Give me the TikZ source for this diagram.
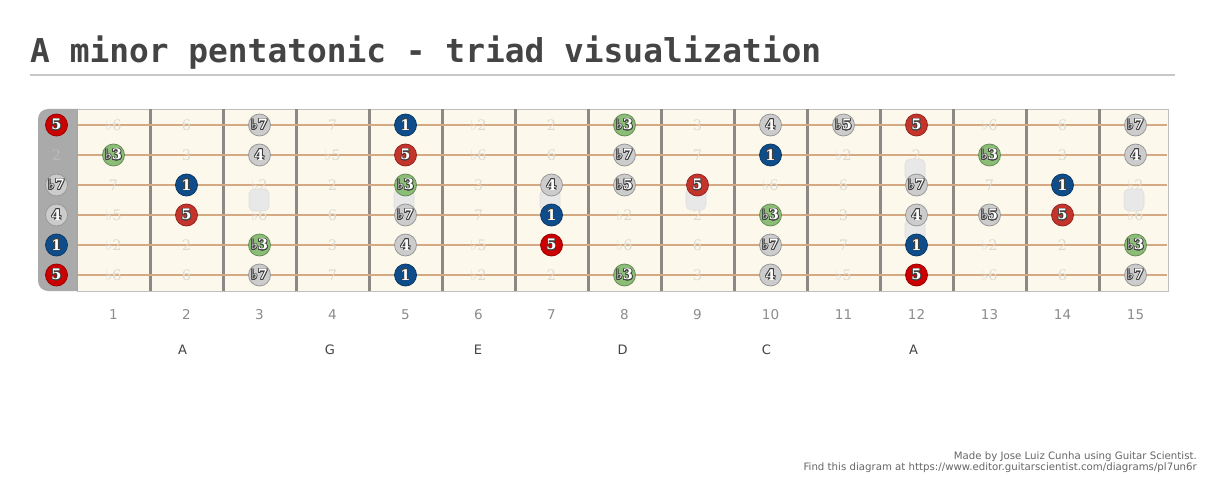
\documentclass[tikz,border=0pt]{standalone}
\usepackage{fontspec}
\usepackage{contour}
\contourlength{0.75pt}
\contournumber{16}
\newfontfamily\titlefont{DejaVu Sans Mono}
\newfontfamily\dsans{DejaVu Sans}
\newfontfamily\dserif{DejaVu Serif}
\newcommand{\fl}{{\dsans ♭}}
\definecolor{boardc}{HTML}{FDF8EC}
\definecolor{nutc}{HTML}{AAAAAA}
\definecolor{fretc}{HTML}{8C8884}
\definecolor{stringc}{HTML}{D6A985}
\definecolor{ghostc}{HTML}{DFDAD0}
\definecolor{redA}{HTML}{CC0000}
\definecolor{redB}{HTML}{C4342A}
\definecolor{blueA}{HTML}{0E4D8A}
\definecolor{greenA}{HTML}{8BBD76}
\definecolor{grayA}{HTML}{CCCCCC}
\definecolor{titlec}{HTML}{444444}
\tikzset{
  dotbase/.style={circle, minimum size=22pt, inner sep=0pt, line width=0.8pt, text=white,
    font=\dserif\bfseries\fontsize{14.5}{14.5}\selectfont},
  dotR/.style={dotbase, fill=redA, draw=redA!75!black},
  dotM/.style={dotbase, fill=redB, draw=redB!75!black},
  dotB/.style={dotbase, fill=blueA, draw=blueA!75!black},
  dotG/.style={dotbase, fill=greenA, draw=greenA!75!black},
  dotY/.style={dotbase, fill=grayA, draw=grayA!75!black},
  ghost/.style={text=ghostc, inner sep=0pt, font=\dserif\fontsize{14.5}{14.5}\selectfont},
  ghostbox/.style={fill=black!9, draw=black!13, line width=0.6pt, rounded corners=5pt,
    minimum width=20pt, minimum height=22pt, inner sep=0pt},
  fretnum/.style={text=black!45, inner sep=0pt, anchor=base, font=\dsans\fontsize{13.5}{14}\selectfont},
  notename/.style={text=titlec, inner sep=0pt, anchor=base, font=\dsans\fontsize{13}{14}\selectfont},
}
\begin{document}
\begin{tikzpicture}[x=1pt,y=-1pt]
\useasboundingbox (0,0) rectangle (1206,492);
\fill[white] (0,0) rectangle (1206,492);
% title
\node[anchor=base west, inner sep=0pt, text=titlec, font=\titlefont\bfseries\fontsize{32.85}{34}\selectfont] (title) at (30,62.5) {A minor pentatonic - triad visualization};
\draw[black!22, line width=2pt] (30,75) -- (1175,75);
% nut and board
\fill[nutc, rounded corners=10pt] (38,109) rectangle (90,291);
\fill[boardc] (77,109) rectangle (1168,291);
\draw[black!25, line width=0.8pt] (77,109) -- (1168,109) -- (1168,291) -- (77,291);
\draw[black!35, line width=0.8pt] (77,109) -- (77,291);
% frets
\foreach \k in {1,...,14} {
  \draw[fretc, line width=3pt] (77+73*\k,109) -- (77+73*\k,291);
}
% strings
\foreach \s in {1,...,6} {
  \draw[stringc, line width=2pt] (78,95+30*\s) -- (1167,95+30*\s);
}
% ghost interval labels
\foreach \s/\lst in {
  1/{\fl6,6,\fl7,7,1,\fl2,2,\fl3,3,4,\fl5,5,\fl6,6,\fl7},
  2/{\fl3,3,4,\fl5,5,\fl6,6,\fl7,7,1,\fl2,2,\fl3,3,4},
  3/{7,1,\fl2,2,\fl3,3,4,\fl5,5,\fl6,6,\fl7,7,1,\fl2},
  4/{\fl5,5,\fl6,6,\fl7,7,1,\fl2,2,\fl3,3,4,\fl5,5,\fl6},
  5/{\fl2,2,\fl3,3,4,\fl5,5,\fl6,6,\fl7,7,1,\fl2,2,\fl3},
  6/{\fl6,6,\fl7,7,1,\fl2,2,\fl3,3,4,\fl5,5,\fl6,6,\fl7}} {
  \foreach \lab [count=\f] in \lst {
    \node[ghost] (g\s-\f) at (40.5+73*\f,95+30*\s) {\lab};
  }
}
\node[ghost, text=black!27] (g2-0) at (56.5,155) {2};
% ghost boxes
\foreach \gx/\gy [count=\i] in {259/200, 404/200, 550/200, 696/199, 915/170, 915/230, 1134/200} {
  \node[ghostbox] (box\i) at (\gx,\gy) {};
}
% played notes
\foreach \s/\f/\st/\lab in {
  1/0/dotR/5, 1/3/dotY/\fl7, 1/5/dotB/1, 1/8/dotG/\fl3, 1/10/dotY/4, 1/11/dotY/\fl5, 1/12/dotM/5, 1/15/dotY/\fl7,
  2/1/dotG/\fl3, 2/3/dotY/4, 2/5/dotM/5, 2/8/dotY/\fl7, 2/10/dotB/1, 2/13/dotG/\fl3, 2/15/dotY/4,
  3/0/dotY/\fl7, 3/2/dotB/1, 3/5/dotG/\fl3, 3/7/dotY/4, 3/8/dotY/\fl5, 3/9/dotM/5, 3/12/dotY/\fl7, 3/14/dotB/1,
  4/0/dotY/4, 4/2/dotM/5, 4/5/dotY/\fl7, 4/7/dotB/1, 4/10/dotG/\fl3, 4/12/dotY/4, 4/13/dotY/\fl5, 4/14/dotM/5,
  5/0/dotB/1, 5/3/dotG/\fl3, 5/5/dotY/4, 5/7/dotR/5, 5/10/dotY/\fl7, 5/12/dotB/1, 5/15/dotG/\fl3,
  6/0/dotR/5, 6/3/dotY/\fl7, 6/5/dotB/1, 6/8/dotG/\fl3, 6/10/dotY/4, 6/12/dotR/5, 6/15/dotY/\fl7} {
  \pgfmathsetmacro\xx{\f==0 ? 56.5 : 40.5+73*\f}
  \node[\st] (n\s-\f) at (\xx,95+30*\s) {\contour{black!75}{\lab}};
}
% fret numbers
\foreach \k in {1,...,15} {
  \node[fretnum] (fn\k) at (40.5+73*\k,319.5) {\k};
}
% note names
\foreach \nx/\nm [count=\i] in {182.5/A, 330/G, 478/E, 622.5/D, 766.5/C, 913.5/A} {
  \node[notename] (nn\i) at (\nx,354) {\nm};
}
% credits
\node[anchor=base east, inner sep=0pt, text=black!60, align=right, font=\dsans\fontsize{10.2}{11}\selectfont] (credit) at (1197,470)
  {Made by Jose Luiz Cunha using Guitar Scientist.\\Find this diagram at https://www.editor.guitarscientist.com/diagrams/pl7un6r};
\end{tikzpicture}
\end{document}
